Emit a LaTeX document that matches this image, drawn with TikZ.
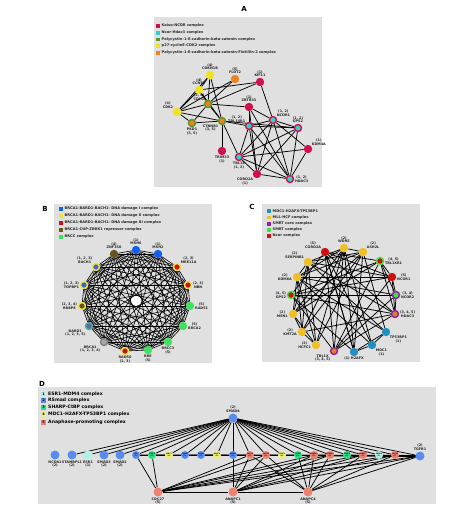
\documentclass[tikz,border=0pt]{standalone}
\usepackage{fontspec}
\setmainfont{DejaVu Sans}

\definecolor{panel}{RGB}{224,224,224}
\definecolor{kaiso}{RGB}{208,16,76}
\definecolor{ncorcyan}{RGB}{48,208,208}
\definecolor{pkdgreen}{RGB}{88,150,40}
\definecolor{cyclin}{RGB}{240,226,30}
\definecolor{flot}{RGB}{240,128,32}
\definecolor{dmgone}{RGB}{16,96,240}
\definecolor{dmgtwo}{RGB}{240,224,64}
\definecolor{dmgthree}{RGB}{208,16,16}
\definecolor{ctip}{RGB}{100,84,30}
\definecolor{brcc}{RGB}{64,224,96}
\definecolor{mdcblue}{RGB}{32,144,192}
\definecolor{mllyel}{RGB}{240,192,32}
\definecolor{smrtcore}{RGB}{144,32,160}
\definecolor{smrtgreen}{RGB}{64,224,64}
\definecolor{ncorred}{RGB}{208,16,16}
\definecolor{esrcyan}{RGB}{180,240,228}
\definecolor{rsmad}{RGB}{90,140,240}
\definecolor{sharp}{RGB}{40,224,130}
\definecolor{mdcyel}{RGB}{240,240,120}
\definecolor{apc}{RGB}{240,128,112}

\pgfdeclarelayer{bg}
\pgfdeclarelayer{edges}
\pgfsetlayers{bg,edges,main}

\tikzset{
    gn/.style={circle, inner sep=0pt, minimum size=8.4pt},
    ring/.style={gn, minimum size=7pt, line width=1.4pt},
    lab/.style={font=\fontsize{3.4}{3.7}\selectfont\bfseries, align=center, inner sep=0.6pt, text=black!85},
    ltxt/.style={font=\fontsize{3.6}{4}\selectfont\bfseries, anchor=west, inner sep=0pt, text=black!85},
    lsq/.style={inner sep=0pt, minimum size=3.6pt},
    link/.style={line width=0.75pt},
    thinlink/.style={line width=0.6pt},
    ptitle/.style={font=\fontsize{7}{8}\selectfont\bfseries},
    dsq/.style={inner sep=0pt, minimum size=5pt, font=\fontsize{3.5}{4}\selectfont\bfseries},
    dtxt/.style={font=\fontsize{4.6}{5}\selectfont\bfseries, anchor=west, inner sep=0pt},
    dn/.style={circle, inner sep=0pt, minimum size=9pt},
    dsm/.style={circle, inner sep=0pt, minimum size=8pt, font=\fontsize{1.7}{1.9}\selectfont\bfseries, align=center},
}
\newcommand{\gene}[6]{\node[#4, label={[lab]#5:{#6}}] (#1) at (#2,#3) {};}

\begin{document}
\begin{tikzpicture}[x=1pt, y=-1pt]
\useasboundingbox (0,0) rectangle (474,515);
\begin{pgfonlayer}{bg}
    \fill[white] (0,0) rectangle (474,515);
\end{pgfonlayer}

% panel A
\begin{pgfonlayer}{bg}
    \fill[panel] (154,17) rectangle (322,187);
\end{pgfonlayer}
\node[ptitle] (tA) at (244,9) {A};
\foreach \y/\c/\t [count=\k] in {26/kaiso/Kaiso-NCOR complex, 32.7/ncorcyan/Ncor-Hdac3 complex, 39.3/pkdgreen/Polycystin-1-E-cadherin-beta-catenin complex, 46/cyclin/p27-cyclinE-CDK2 complex, 53/flot/Polycystin-1-E-cadherin-beta-catenin-Flotillin-2 complex}{
    \node[lsq, fill=\c] (sqa\k) at (158,\y) {};
    \node[ltxt] (txa\k) at (161.5,\y) {\t};
}
\gene{cdknb}{210}{75}{gn, fill=cyclin}{above}{(4)\\CDKN1B}
\gene{flotb}{235}{79}{gn, fill=flot}{above}{(5)\\FLOT2}
\gene{kif}{260}{82}{gn, fill=kaiso}{above}{(1)\\KIF11}
\gene{ccne}{199}{90}{gn, fill=cyclin}{above}{(4)\\CCNE1}
\gene{cdk}{177}{112}{gn, fill=cyclin}{above left}{(4)\\CDK2}
\gene{cdh}{208}{104}{ring, fill=flot, draw=pkdgreen}{above left}{(3, 5)\\CDH1}
\gene{pkd}{192}{123}{ring, fill=flot, draw=pkdgreen}{below}{PKD1\\(3, 5)}
\gene{ctnnb}{222}{121}{ring, fill=flot, draw=pkdgreen}{below left}{CTNNB1\\(3, 5)}
\gene{zbtb}{249}{107}{gn, fill=kaiso}{above}{(1)\\ZBTB33}
\gene{tblxr}{249}{126}{ring, fill=ncorcyan, draw=kaiso}{above left}{(1, 2)\\TBL1XR1}
\gene{ncora}{273}{120}{ring, fill=ncorcyan, draw=kaiso}{above right}{(1, 2)\\NCOR1}
\gene{gpsa}{298}{128}{ring, fill=ncorcyan, draw=kaiso}{above}{(1, 2)\\GPS2}
\gene{kdm}{308}{149}{gn, fill=kaiso}{above right}{(1)\\KDM4A}
\gene{trim}{222}{151}{gn, fill=kaiso}{below}{TRIM33\\(1)}
\gene{tblx}{239}{157}{ring, fill=ncorcyan, draw=kaiso}{below}{TBL1X\\(1, 2)}
\gene{coro}{257}{174}{gn, fill=kaiso}{below left}{CORO2A\\(1)}
\gene{hdac}{290}{179}{ring, fill=ncorcyan, draw=kaiso}{right}{(1, 2)\\HDAC3}
\begin{pgfonlayer}{edges}
\foreach \a/\b in {cdk/ccne, cdk/cdknb, ccne/cdknb, cdk/cdh, cdk/pkd, cdk/ctnnb, ccne/cdh, ccne/ctnnb, ccne/kif, cdknb/cdh,
    cdknb/ctnnb, flotb/cdh, flotb/cdk, kif/cdh, kif/ncora, cdh/ctnnb, cdh/pkd, pkd/ctnnb, cdh/zbtb, ctnnb/trim,
    ctnnb/tblx, ctnnb/tblxr, ctnnb/gpsa, zbtb/ncora, zbtb/tblxr, zbtb/hdac, zbtb/coro, tblxr/ncora, tblxr/gpsa, tblxr/tblx,
    tblxr/hdac, tblxr/coro, ncora/gpsa, ncora/tblx, ncora/hdac, ncora/kdm, ncora/coro, gpsa/tblx, gpsa/hdac, gpsa/coro,
    kdm/hdac, kdm/tblx, tblx/hdac, tblx/coro, coro/hdac}
    \draw[link] (\a) -- (\b);
\end{pgfonlayer}

% panel B
\begin{pgfonlayer}{bg}
    \fill[panel] (54,204) rectangle (212,363);
    \fill[white] (136,301) circle (5.2);
\end{pgfonlayer}
\node[ptitle] (tB) at (45,209) {B};
\foreach \y/\c/\t [count=\k] in {209/dmgone/BRCA1-BARD1-BACH1- DNA damage I complex, 216/dmgtwo/BRCA1-BARD1-BACH1- DNA damage II complex, 223/dmgthree/BRCA1-BARD1-BACH1- DNA damage III complex, 230/ctip/BRCA1-CtIP-ZBRK1 repressor complex, 237/brcc/BRCC complex}{
    \node[lsq, fill=\c] (sqb\k) at (61,\y) {};
    \node[ltxt] (txb\k) at (64.5,\y) {\t};
}
\gene{b1}{136}{250}{gn, fill=dmgone}{above}{(1)\\MSH6}
\gene{b2}{158}{254}{gn, fill=dmgone}{above}{(1)\\MSH2}
\gene{b3}{177}{267}{ring, fill=dmgthree, draw=dmgtwo}{above right}{(2, 3)\\MRE11A}
\gene{b4}{188}{285}{ring, fill=dmgthree, draw=dmgtwo}{right}{(2, 3)\\NBN}
\gene{b5}{190}{306}{gn, fill=brcc}{right}{(5)\\RAD51}
\gene{b6}{183}{326}{gn, fill=brcc}{right}{(5)\\BRCA2}
\gene{b7}{168}{342}{gn, fill=brcc}{below}{BRCC3\\(5)}
\gene{b8}{148}{350}{gn, fill=brcc}{below}{BRE\\(5)}
\gene{b9}{125}{351}{ring, fill=dmgthree, draw=dmgtwo}{below}{RAD50\\(2, 3)}
\gene{b10}{104}{342}{ring, fill=gray!70, draw=gray}{below left}{BRCA1\\(1, 2, 3, 4)}
\gene{b11}{89}{326}{ring, fill=gray!80!blue, draw=teal!70!white}{below left}{BARD1\\(1, 2, 3, 5)}
\gene{b12}{82}{306}{ring, fill=ctip, draw=dmgtwo}{left}{(2, 3, 4)\\RBBP8}
\gene{b13}{84}{285}{ring, fill=dmgone!70!gray, draw=dmgtwo}{left}{(1, 2, 3)\\TOPBP1}
\gene{b14}{96}{267}{ring, fill=dmgone!60!gray, draw=dmgtwo}{above left}{(1, 2, 3)\\BACH1}
\gene{b15}{114}{254}{gn, fill=ctip}{above}{(4)\\ZNF350}
\begin{pgfonlayer}{edges}
\foreach \i in {1,...,14}{
    \pgfmathtruncatemacro{\n}{\i+1}
    \foreach \j in {\n,...,15}
        \draw[thinlink] (b\i) -- (b\j);
}
\end{pgfonlayer}

% panel C
\begin{pgfonlayer}{bg}
    \fill[panel] (262,204) rectangle (420,362);
\end{pgfonlayer}
\node[ptitle] (tC) at (252,207) {C};
\foreach \y/\c/\t [count=\k] in {211/mdcblue/MDC1-H2AFX-TP53BP1, 217.5/mllyel/MLL-HCF complex, 224/smrtcore/SMRT core complex, 230/smrtgreen/SMRT complex, 236/ncorred/Ncor complex}{
    \node[lsq, fill=\c] (sqc\k) at (269,\y) {};
    \node[ltxt] (txc\k) at (272.5,\y) {\t};
}
\gene{c1}{325}{252}{gn, fill=ncorred}{above left}{(5)\\CORO2A}
\gene{c2}{344}{248}{gn, fill=mllyel}{above}{(2)\\WDR5}
\gene{c3}{363}{252}{gn, fill=mllyel}{above right}{(2)\\ASH2L}
\gene{c4}{380}{261}{ring, fill=ncorred, draw=smrtgreen}{right}{(4, 5)\\TBL1XR1}
\gene{c5}{392}{277}{gn, fill=ncorred}{right}{(5)\\NCOR1}
\gene{c6}{396}{295}{ring, fill=smrtgreen, draw=smrtcore}{right}{(3, 4)\\NCOR2}
\gene{c7}{395}{314}{ring, fill=brown!60!orange, draw=smrtcore}{right}{(3, 4, 5)\\HDAC3}
\gene{c8}{386}{332}{gn, fill=mdcblue}{below right}{TP53BP1\\(1)}
\gene{c9}{372}{345}{gn, fill=mdcblue}{below right}{MDC1\\(1)}
\gene{c10}{354}{352}{gn, fill=mdcblue}{below}{(1) H2AFX}
\gene{c11}{334}{351}{ring, fill=brown!60!orange, draw=smrtcore}{below left}{TBL1X\\(3, 4, 5)}
\gene{c12}{316}{345}{gn, fill=mllyel}{left}{(2)\\HCFC1}
\gene{c13}{302}{332}{gn, fill=mllyel}{left}{(2)\\KMT2A}
\gene{c14}{293}{314}{gn, fill=mllyel}{left}{(2)\\MEN1}
\gene{c15}{291}{295}{ring, fill=ncorred, draw=smrtgreen}{left}{(4, 5)\\GPS2}
\gene{c16}{297}{277}{gn, fill=mllyel}{left}{(2)\\KDM6A}
\gene{c17}{308}{262}{gn, fill=mllyel}{above left}{(2)\\SERPINB1}
\begin{pgfonlayer}{edges}
\foreach \a/\b in {c1/c5, c1/c4, c1/c7, c1/c11, c1/c15, c1/c9, c1/c10, c2/c3, c2/c17, c2/c16, c2/c14, c2/c13,
    c2/c12, c2/c10, c2/c9, c3/c17, c3/c16, c3/c14, c3/c13, c3/c12, c3/c10, c3/c8, c4/c5, c4/c6, c4/c7,
    c4/c11, c4/c15, c4/c14, c5/c6, c5/c7, c5/c11, c5/c15, c5/c16, c5/c17, c6/c7, c6/c11, c6/c15, c6/c16,
    c7/c11, c7/c15, c7/c17, c7/c13, c8/c9, c8/c10, c8/c17, c8/c16, c9/c10, c9/c16, c10/c1, c10/c15,
    c11/c15, c11/c2, c12/c13, c12/c14, c12/c16, c12/c17, c13/c14, c13/c16, c13/c17, c14/c16, c14/c17, c16/c17}
    \draw[link] (\a) -- (\b);
\end{pgfonlayer}

% panel D
\begin{pgfonlayer}{bg}
    \fill[panel] (38,387) rectangle (436,504);
\end{pgfonlayer}
\node[ptitle] (tD) at (42,384) {D};
\foreach \y/\c/\t [count=\k] in {394/esrcyan/ESR1-MDM4 complex, 400.5/rsmad/RSmad complex, 407/sharp/SHARP-CtBP complex, 414/mdcyel/MDC1-H2AFX-TP53BP1 complex, 422/apc/Anaphase-promoting complex}{
    \node[dsq, fill=\c] (sqd\k) at (43.5,\y) {\k};
    \node[dtxt] (txd\k) at (48,\y) {\t};
}
\node[dn, fill=rsmad, label={[lab]above:{(2)\\SMAD4}}] (dtop) at (233,418) {};
\node[dn, fill=rsmad, label={[lab]above:{(2)\\TGFB1}}] (dright) at (420,456) {};
\node[dn, fill=apc, label={[lab]below:{CDC27\\(5)}}] (dbot1) at (158,492) {};
\node[dn, fill=apc, label={[lab]below:{ANAPC1\\(5)}}] (dbot2) at (233,492) {};
\node[dn, fill=apc, label={[lab]below:{ANAPC4\\(5)}}] (dbot3) at (308,492) {};
\foreach \x/\c/\t [count=\k] in {55/rsmad/{NCOA1\\(2)}, 72/rsmad/{STAMBPL1\\(2)}, 88/esrcyan/{ESR1\\(1)}, 104/rsmad/{SMAD3\\(2)}, 120/rsmad/{SMAD2\\(2)}}
    \node[dn, fill=\c, label={[lab]below:{\t}}] (d\k) at (\x,455) {};
\foreach \x/\c/\t [count=\k from 6] in {136/rsmad/{SKI\\(2)}, 152/sharp/{CTBP1\\(3)}, 169/mdcyel/{MDC1\\(4)}, 185/rsmad/{SMAD7\\(2)}, 201/rsmad/{SNON\\(2)},
    217/mdcyel/{H2AFX\\(4)}, 233/rsmad/{FOXH1\\(2)}, 250/apc/{CDC16\\(5)}, 266/apc/{CDC23\\(5)}, 282/mdcyel/{53BP1\\(4)},
    298/sharp/{SPEN\\(3)}, 314/apc/{ANAPC2\\(5)}, 330/apc/{ANAPC5\\(5)}, 347/sharp/{CTBP2\\(3)}, 363/apc/{ANAPC7\\(5)},
    379/esrcyan/{MDM4\\(1)}, 395/apc/{CDC20\\(5)}}
    \node[dsm, fill=\c] (d\k) at (\x,455) {\t};
\begin{pgfonlayer}{edges}
    \foreach \k in {2,...,22}
        \draw[link] (dtop) -- (d\k);
    \draw[link] (dtop) -- (dright);
    \foreach \k in {6,...,21}{
        \pgfmathtruncatemacro{\n}{\k+1}
        \draw[link] (d\k) -- (d\n);
    }
    \draw[link] (d22) -- (dright);
    \foreach \k in {6,7,9,10,12,14,15,17,19,21}
        \draw[link] (dright) -- (d\k);
    \foreach \k in {6,7,13,14,17,18,20,22}
        \draw[link] (dbot1) -- (d\k);
    \foreach \k in {12,13,14,17,18,20,22}
        \draw[link] (dbot2) -- (d\k);
    \foreach \k in {13,14,16,17,18,20,22}
        \draw[link] (dbot3) -- (d\k);
    \foreach \a/\b in {dbot1/dbot2, dbot2/dbot3, dbot1/dright, dbot2/dright, dbot3/dright}
        \draw[link] (\a) -- (\b);
\end{pgfonlayer}
\end{tikzpicture}
\end{document}
